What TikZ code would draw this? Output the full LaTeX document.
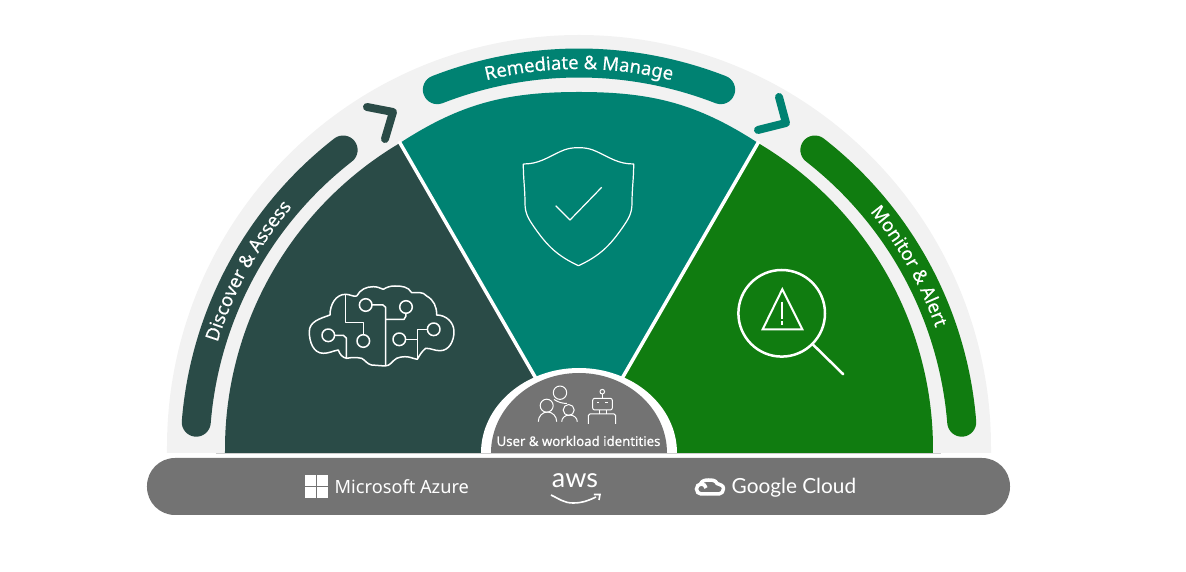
\documentclass[tikz,border=0pt]{standalone}
\usepackage{fontspec}
\setmainfont[FakeBold=0.35]{Noto Sans}
\newfontfamily\logofont{Lato}
\newfontfamily\plainfont{Noto Sans}
\usetikzlibrary{decorations.text}
\definecolor{darkteal}{HTML}{2A4B47}
\definecolor{midteal}{HTML}{008272}
\definecolor{leafgreen}{HTML}{107C10}
\definecolor{bargray}{HTML}{737373}
\definecolor{ringgray}{HTML}{F2F2F2}
\tikzset{
	band/.style={line width=29pt,line cap=round},
	chev/.style={line width=8pt,line cap=round,line join=round},
	sect/.style={line width=3.5pt,white},
	icon/.style={draw=white,line width=1.5pt,line join=round},
	thinicon/.style={draw=white,line width=1pt,line join=round},
	logotext/.style={white,inner sep=0pt,anchor=west},
}
\newcommand{\arcfont}{\fontsize{18.5}{18.5}\selectfont}
\newcommand{\arclabel}[4]{\path[decorate,decoration={text along path,text align=center,text color=white,text={|\arcfont|#4}}] (#1:#3) arc (#1:#2:#3);}
\catcode`\&=12
\begin{document}
\begin{tikzpicture}[x=1pt,y=1pt]
	\useasboundingbox (-579,-119) rectangle (607,453);
	% ring and sectors
	\fill[ringgray] (-412,0) -- (-412,6) arc (180:0:412) -- (412,0) -- cycle;
	\fill[darkteal] (0,0) -- plot[domain=180:120,samples=30,smooth] (\x:{354+4*(180-\x)/60}) -- cycle;
	\fill[midteal] (0,0) -- (120:358) to[out=33,in=180] (90:361) to[out=0,in=147] (60:358) -- cycle;
	\fill[leafgreen] (0,0) -- plot[domain=60:0,samples=30,smooth] (\x:{354+4*\x/60}) -- cycle;
	\draw[sect] (0,0) -- (120:360);
	\draw[sect] (0,0) -- (60:360);
	\draw[bargray!35,line width=.6pt] (-363,0) -- (362,0);
	% bands
	\draw[band,darkteal] (175.4:384) arc (175.4:127.9:384);
	\draw[band,midteal] (111.3:390) arc (111.3:68.7:390);
	\draw[band,leafgreen] (52.1:384) arc (52.1:4.6:384);
	\arclabel{172}{130.4}{378}{Discover & Assess}
	\arclabel{110}{70}{384}{Remediate & Manage}
	\arclabel{50.3}{8.7}{378}{Monitor & Alert}
	% middle half disc
	\fill[white] (-98,0) arc (180:0:98 and 85) -- cycle;
	\fill[bargray] (-88,0) arc (180:0:88 and 80) -- cycle;
	\begin{scope}[shift={(-579,453)},y=-1pt]
		\draw[chev,darkteal] (367,107) -- (393,112) -- (385,139);
		\draw[chev,midteal] (758,130) -- (786,123) -- (779,97);
		\fill[bargray,rounded corners=28pt] (147,458) rectangle (1010,515);
		% brain
		\draw[icon] (309.3,331.7) to[out=90,in=200] (330,315) to[out=90,in=180] (345.7,294.3)
			to[out=0,in=190] (356.7,296) to[out=60,in=180] (373.3,286.7) to[out=0,in=160] (383.3,289.3)
			to[out=30,in=180] (395,286) to[out=0,in=120] (411.7,292.7) to[out=0,in=130] (426.7,296)
			to[out=-30,in=90] (436.7,315) to[out=0,in=90] (454,331.7) to[out=-90,in=0] (440,350.7)
			to[out=180,in=0] (425.7,348.3) to[out=-140,in=60] (417.3,359.3) to[out=170,in=0] (405,356.7)
			to[out=180,in=20] (396.7,358.3) to[out=-150,in=0] (385,366) -- (371.7,365)
			to[out=170,in=-30] (361.7,358.3) to[out=170,in=10] (346.7,358.3) to[out=170,in=-70] (338.3,350)
			to[out=-170,in=0] (323.3,353.3) to[out=180,in=-90] (309.3,331.7);
		\draw[icon] (345.7,294.3) -- (345.7,322.3) -- (363.3,322.3) -- (363.3,334.7);
		\draw[icon] (363.3,341) circle (6.3);
		\draw[icon] (328.3,335.3) circle (6.3);
		\draw[icon] (334.6,335.3) -- (343.3,335.3) -- (346.3,338) -- (346.3,358.3);
		\draw[icon] (365.7,305) circle (6.3);
		\draw[icon] (372,305) -- (383,305) -- (385.7,307.3) -- (385.7,366);
		\draw[icon] (406,307) circle (6.3);
		\draw[icon] (406,313.3) -- (406,316) -- (404,319.3) -- (385.7,319.3);
		\draw[icon] (399.3,339.3) circle (6.3);
		\draw[icon] (405.6,339.3) -- (417.5,339.3);
		\draw[icon] (417.5,359.3) -- (417.5,329.3) -- (427.4,329.3);
		\draw[icon] (433.7,329.3) circle (6.3);
		% shield
		\draw[icon,line width=1.2pt] (523.3,164) to[out=0,in=205] (560,151.7) to[out=25,in=180] (578.5,147.7)
			to[out=0,in=155] (597,151.7) to[out=-25,in=180] (633.7,164) to[out=-90,in=90] (632,203.3)
			to[out=-90,in=55] (622,228.3) to[out=-125,in=25] (578.5,265.7) to[out=155,in=-55] (535,228.3)
			to[out=125,in=-90] (525,203.3) to[out=90,in=-90] (523.3,164);
		\draw[icon,line width=1.2pt] (555.7,205.7) -- (570,220) -- (601.7,187.3);
		% magnifier
		\draw[icon,line width=2.5pt] (781.7,313.3) circle (43.3);
		\draw[icon,line width=2.5pt,line cap=round] (812.7,344.3) -- (843.3,374.3);
		\draw[icon,line width=2pt,line join=miter] (782.3,289.3) -- (802.3,329.3) -- (762.7,329.3) -- cycle;
		\draw[icon,line width=2pt] (782.3,301.7) -- (782.3,319);
		\draw[icon,line width=2pt] (782.3,321.5) -- (782.3,325);
		% identities
		\draw[thinicon] (560,392.7) circle (6.7);
		\draw[thinicon] (546.7,405.7) circle (6.5);
		\draw[thinicon] (568.7,410) circle (5.5);
		\draw[thinicon] (554,399.5) to[bend right=15] (567,403.5);
		\draw[thinicon] (538.3,421.7) to[out=90,in=180] (547.5,412) to[out=0,in=90] (556.7,421.7);
		\draw[thinicon] (561.7,421.7) to[out=90,in=180] (569.5,415) to[out=0,in=90] (577.3,421.7);
		\draw[thinicon,rounded corners=2pt] (592.7,398.3) rectangle (612.3,410);
		\draw[thinicon] (602.3,391.7) circle (2.3);
		\draw[thinicon] (602.3,394) -- (602.3,398.3);
		\draw[thinicon] (597,402.7) -- (599.5,402.7);
		\draw[thinicon] (605,402.7) -- (608.3,402.7);
		\draw[thinicon] (599.3,410) -- (599.3,414);
		\draw[thinicon] (606,410) -- (606,414);
		\draw[thinicon,rounded corners=1.5pt] (588.3,424) -- (588.3,414) -- (615.7,414) -- (615.7,424);
		\node[white,inner sep=0pt,font=\fontsize{13.2}{13.2}\selectfont] (identlabel) at (578.5,441) {User & workload identities};
		% clouds
		\foreach \xa/\ya in {305/475,317/475,305/487,317/487}
			\fill[white] (\xa,\ya) rectangle ++(11.3,11.3);
		\node[logotext,font=\plainfont\fontsize{18.2}{18.2}\selectfont] (azurelabel) at (334.5,487) {Microsoft Azure};
		\node[white,inner sep=0pt,font=\logofont\fontsize{27}{27}\selectfont] (awslabel) at (575,481) {aws};
		\draw[white,line width=1.6pt] (551,495) to[out=-25,in=180] (573,503) to[out=0,in=-155] (596,497);
		\draw[white,line width=1.6pt] (594,494.5) -- (600,494.5) -- (599,500);
		\draw[white,line width=3.5pt,line join=round] (707,494) -- (719,494) to[out=0,in=-90] (723.5,488.5)
			to[out=90,in=-20] (717,483.5) to[out=110,in=0] (708.5,480) to[out=180,in=70] (700.5,484);
		\draw[white,line width=3.5pt] (707,494) -- (701,494) to[out=180,in=-90] (696.5,489) to[out=90,in=180] (701,484) to[out=0,in=90] (706,488);
		\node[logotext,font=\logofont\fontsize{20.8}{20.8}\selectfont] (googlelabel) at (731.5,488) {Google Cloud};
	\end{scope}
\end{tikzpicture}
\end{document}
